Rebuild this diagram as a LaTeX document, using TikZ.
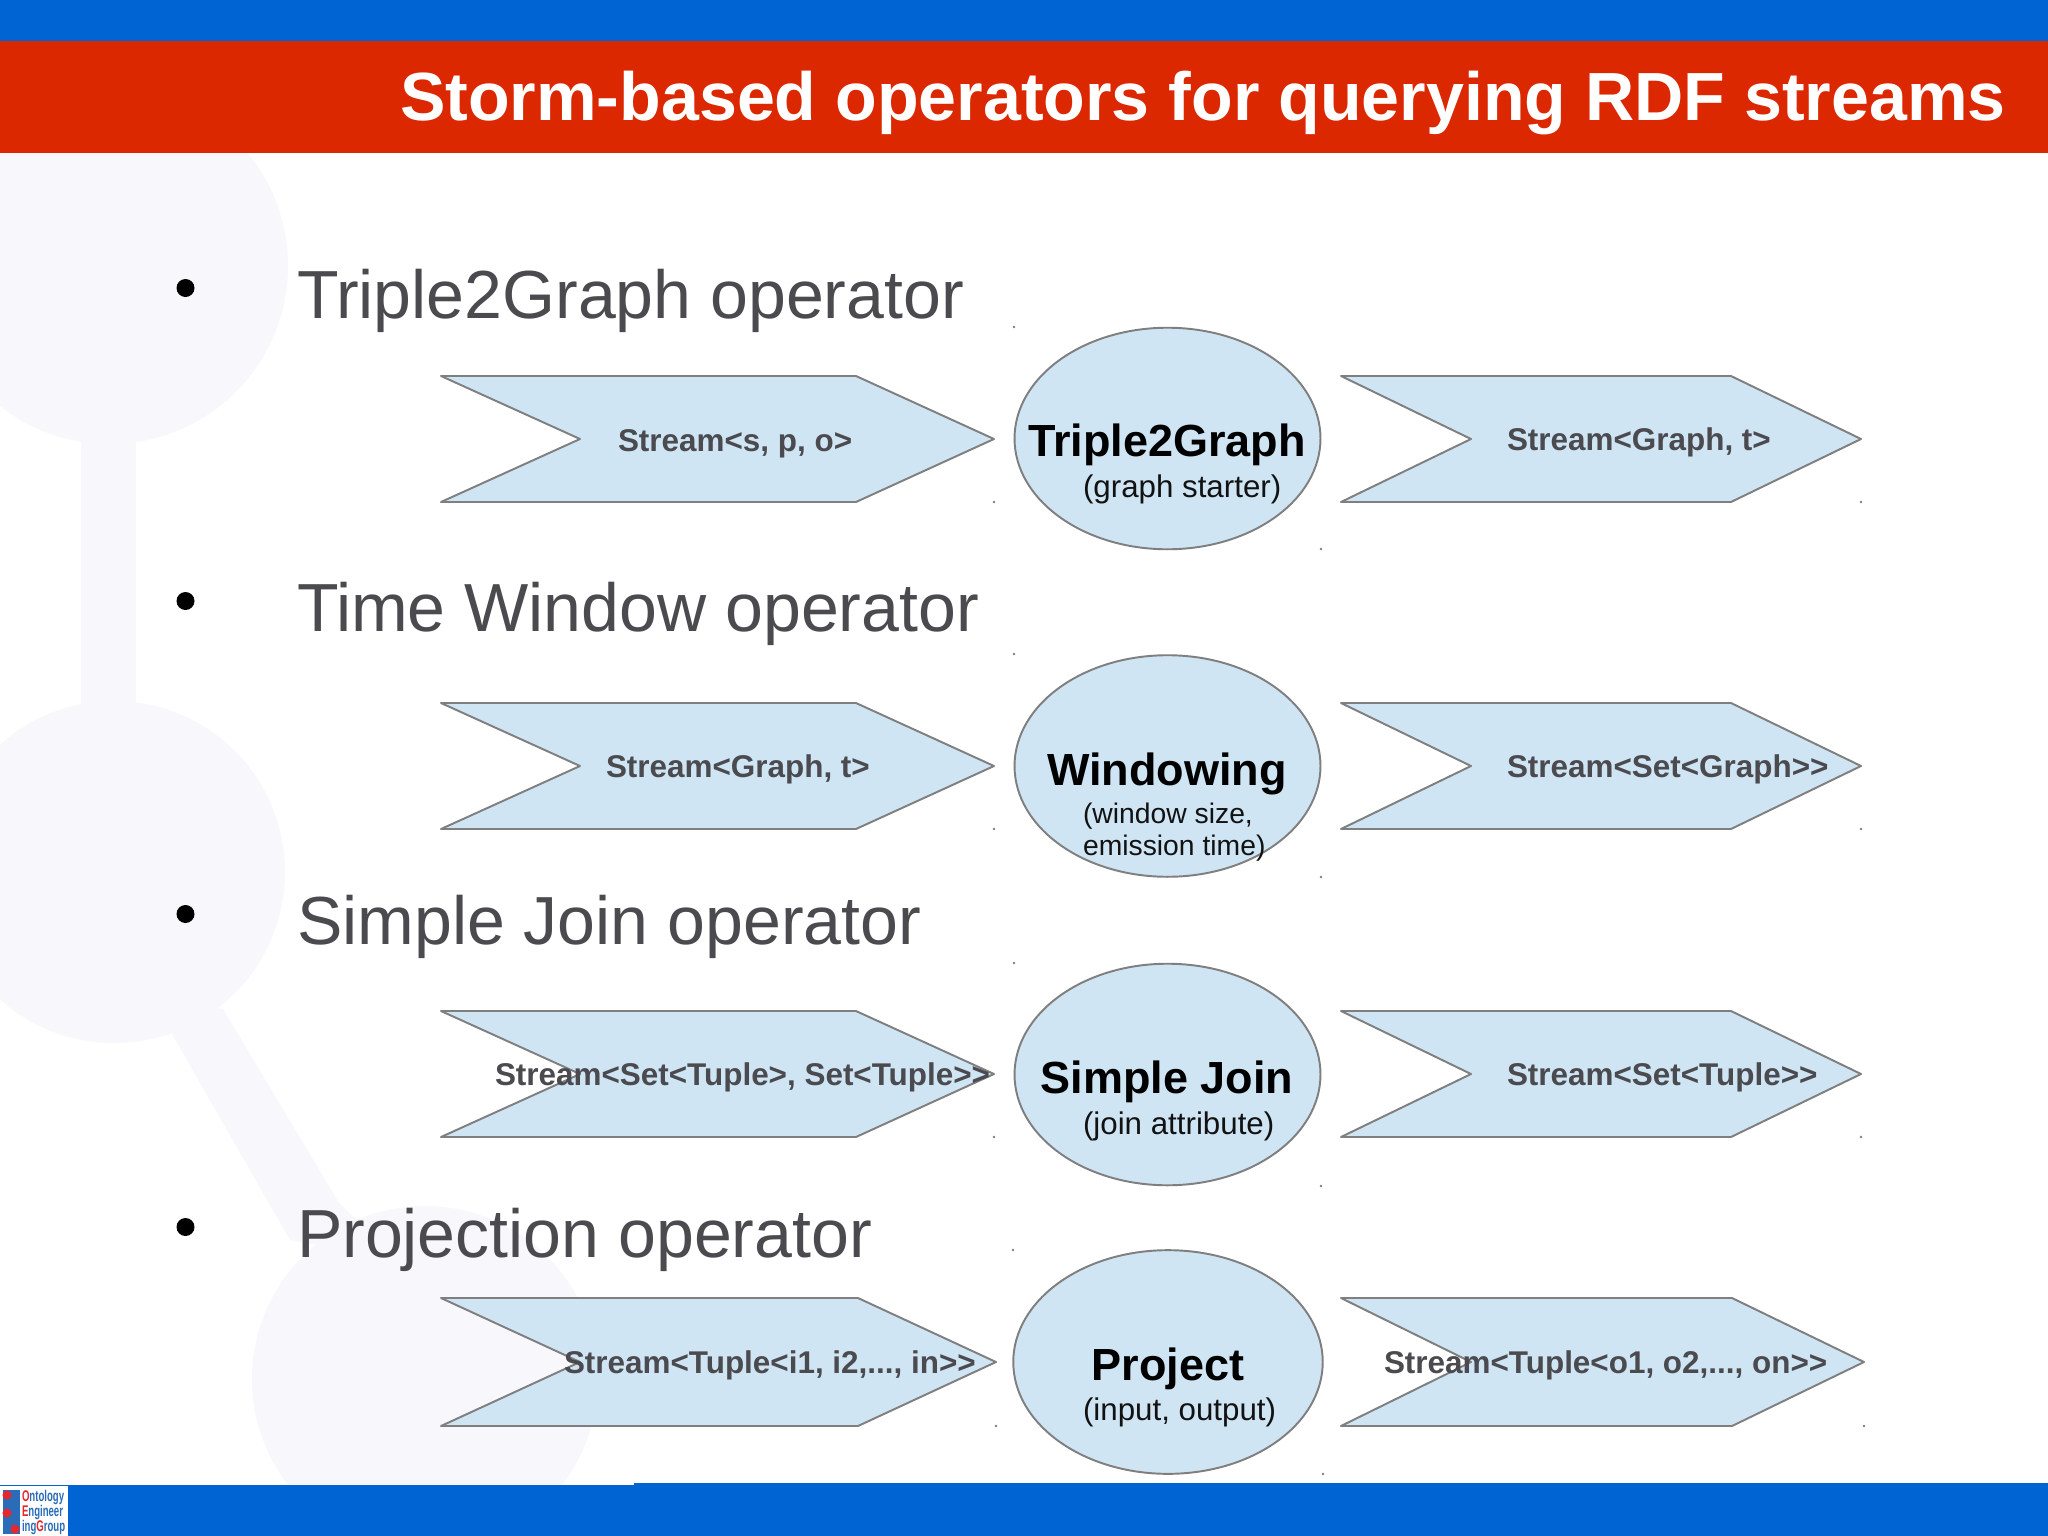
\documentclass[tikz,border=0pt]{standalone}
\usepackage{fontspec}
\setmainfont{Liberation Sans}
\usetikzlibrary{shapes.geometric}
\definecolor{topblue}{HTML}{0064D2}
\definecolor{barred}{HTML}{DC2800}
\definecolor{ghost}{HTML}{F8F7FB}
\definecolor{shapefill}{HTML}{CFE5F4}
\definecolor{shapeline}{HTML}{7F7F80}
\definecolor{inktext}{HTML}{4A4A4F}
\definecolor{logoblue}{HTML}{2A6CB8}
\definecolor{logored}{HTML}{E8262C}
\newcommand{\fsz}[1]{\fontsize{#1pt}{#1pt}\selectfont}
\tikzset{
  x=0.01cm,y=-0.01cm,
  txt/.style={inner sep=0pt,outer sep=0pt,anchor=base west},
  heading/.style={txt,text=inktext,font=\fsz{19.35}},
  flow/.style={txt,text=inktext,font=\bfseries\fsz{8.94}},
  optitle/.style={inner sep=0pt,outer sep=0pt,anchor=base,text=black,font=\bfseries\fsz{12.8}},
  opsub/.style={txt,text=black!93,font=\fsz{8.9}},
  opsubsmall/.style={txt,text=black!93,font=\fsz{8.05}},
  opcircle/.style={ellipse,draw=shapeline,fill=shapefill,line width=0.55pt,inner sep=0pt},
  notched/.style={draw=shapeline,fill=shapefill,line width=0.55pt,line join=round},
  speck/.style={fill=shapeline,draw=none},
  logot/.style={inner sep=0pt,outer sep=0pt,anchor=base west,xscale=0.62,font=\bfseries\fsz{4.4},text=logoblue},
}
% #1 x-left #2 x-notch #3 x-shoulder #4 x-tip #5 top #6 mid #7 bottom
\newcommand{\streamshape}[7]{%
  \path[notched] (#1,#5) -- (#3,#5) -- (#4,#6) -- (#3,#7) -- (#1,#7) -- (#2,#6) -- cycle;
  \fill[speck] (#4,#7) circle (1.3);
}
\begin{document}
\begin{tikzpicture}
\useasboundingbox (0,0) rectangle (2048,1536);
\fill[white] (0,0) rectangle (2048,1536);
% ghost background
\begin{scope}
\clip (0,153) rectangle (2048,1485);
\fill[ghost] (110,266) circle (178);
\fill[ghost] (114,872) circle (171);
\fill[ghost] (425,1379) circle (173);
\fill[ghost] (81,420) rectangle (136,720);
\fill[ghost] (223,1009) -- (339,1203) -- (400,1260) -- (290,1240) -- (172,1034) -- (150,1000) -- cycle;
\end{scope}
% bars
\fill[topblue] (0,0) rectangle (2048,41);
\fill[barred] (0,41) rectangle (2048,153);
\fill[topblue] (0,1485) rectangle (2048,1536);
\fill[topblue] (634,1483) rectangle (2048,1485);
\node[txt,text=white,font=\bfseries\fsz{19.38}] (title) at (400,120) {Storm-based operators for querying RDF streams};
% logo
\fill[white] (0,1486) rectangle (68,1536);
\fill[logoblue] (3,1490) rectangle (20,1534);
\fill[logored] (7,1495) circle (4.5);
\fill[logored] (7,1513) circle (4.5);
\fill[logored] (15,1529) circle (4.5);
\node[logot] (logoa) at (22,1501) {\textcolor{logored}{O}ntology};
\node[logot] (logob) at (22,1516) {\textcolor{logored}{E}ngineer};
\node[logot] (logoc) at (22,1531) {ing\textcolor{logored}{G}roup};
% bullets
\foreach \n/\y in {a/288,b/601,c/914,d/1227}{
  \fill[black] (185.5,\y) circle (9);
}
% headings
\node[heading] (h1) at (297,318) {Triple2Graph operator};
\node[heading] (h2) at (297,631) {Time Window operator};
\node[heading] (h3) at (297,944) {Simple Join operator};
\node[heading] (h4) at (297,1257) {Projection operator};
% row 1
\streamshape{441}{580}{856}{994}{376}{439}{502}
\streamshape{1341}{1471}{1731}{1861}{376}{439}{502}
\node[opcircle,minimum width=87pt,minimum height=63pt] (op1) at (1167.5,438.5) {};
\fill[speck] (1014,327) circle (1.3) (1321,549) circle (1.3);
\node[flow] (l1) at (618,451) {Stream<s, p, o>};
\node[flow] (r1) at (1507,450) {Stream<Graph, t>};
\node[optitle] (t1) at (1167,456) {Triple2Graph};
\node[opsub] (s1) at (1083,497) {(graph starter)};
% row 2
\streamshape{441}{580}{856}{994}{703}{766}{829}
\streamshape{1341}{1471}{1731}{1861}{703}{766}{829}
\node[opcircle,minimum width=87pt,minimum height=63pt] (op2) at (1167.5,766) {};
\fill[speck] (1014,654) circle (1.3) (1321,877) circle (1.3);
\node[flow] (l2) at (606,777) {Stream<Graph, t>};
\node[flow] (r2) at (1507,777) {Stream<Set<Graph>{}>};
\node[optitle] (t2) at (1167,785) {Windowing};
\node[opsubsmall] (s2a) at (1083,823) {(window size,};
\node[opsubsmall] (s2b) at (1083,855) {emission time)};
% row 3
\streamshape{441}{580}{856}{994}{1011}{1074}{1137}
\streamshape{1341}{1471}{1731}{1861}{1011}{1074}{1137}
\node[opcircle,minimum width=87pt,minimum height=63pt] (op3) at (1167.5,1074.5) {};
\fill[speck] (1014,963) circle (1.3) (1321,1186) circle (1.3);
\node[flow] (l3) at (495,1085) {Stream<Set<Tuple>, Set<Tuple>{}>};
\node[flow] (r3) at (1507,1085) {Stream<Set<Tuple>{}>};
\node[optitle] (t3) at (1167,1093) {Simple Join};
\node[opsub] (s3) at (1083,1134) {(join attribute)};
% row 4
\streamshape{441}{580}{858}{996}{1298}{1362}{1426}
\streamshape{1341}{1471}{1732}{1864}{1298}{1362}{1426}
\node[opcircle,minimum width=88pt,minimum height=63.6pt] (op4) at (1168,1362) {};
\fill[speck] (1013,1250) circle (1.3) (1323,1474) circle (1.3);
\node[flow] (l4) at (564,1373) {Stream<Tuple<i1, i2,..., in>{}>};
\node[flow] (r4) at (1384,1373) {Stream<Tuple<o1, o2,..., on>{}>};
\node[optitle] (t4) at (1168,1380) {Project};
\node[opsub] (s4) at (1083,1420) {(input, output)};
\end{tikzpicture}
\end{document}
